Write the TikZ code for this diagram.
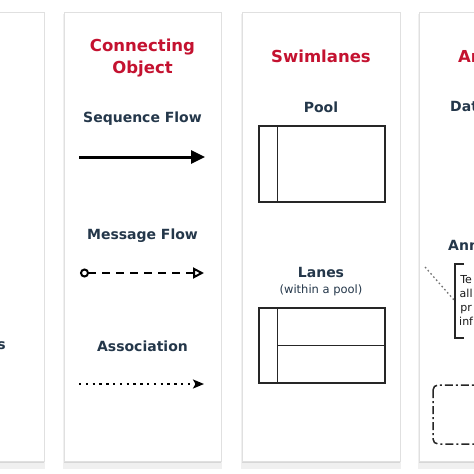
\documentclass[tikz,border=0pt]{standalone}
\usepackage{fontspec}
\setmainfont{DejaVu Sans}
\usepackage{tikz}
\usetikzlibrary{positioning,arrows.meta,shadows}
\definecolor{bpmnred}{HTML}{C41230}
\definecolor{bpmnnavy}{HTML}{24374A}
\definecolor{bpmnline}{HTML}{262626}

\begin{document}
\begin{tikzpicture}[
		x=1pt, y=-1pt,
		every text node part/.style={align=center},
		panel/.style={draw=black!12, fill=white, inner sep=0pt,
			drop shadow={shadow xshift=0pt, shadow yshift=-2pt, opacity=0.10, fill=black},
			drop shadow={shadow xshift=0pt, shadow yshift=-5pt, shadow scale=1.015, opacity=0.06, fill=black}},
		title/.style={text=bpmnred, font=\bfseries\fontsize{16.5}{22}\selectfont, inner sep=0pt},
		label/.style={text=bpmnnavy, font=\bfseries\fontsize{14}{17}\selectfont, inner sep=0pt},
		small/.style={text=bpmnnavy, font=\fontsize{11.5}{14}\selectfont, inner sep=0pt},
		note/.style={text=black!90, font=\fontsize{11}{14}\selectfont, inner sep=0pt, anchor=north west, align=left},
		shape line/.style={draw=bpmnline, line width=1.5pt},
		flow/.style={line width=2pt, draw=black}
	]
	\useasboundingbox[fill=white] (0,0) rectangle (474,474);

	% panels
	\node(objects)[panel, minimum width=84, minimum height=449] at (2,236.5) {};
	\node(connecting)[panel, minimum width=157, minimum height=449] at (142.5,236.5) {};
	\node(swimlanes)[panel, minimum width=158, minimum height=449] at (321,236.5) {};
	\node(artifacts)[panel, minimum width=120, minimum height=449] at (479,236.5) {};

	\node(gateway)[label, anchor=east] at (6,346) {s};

	% connecting objects
	\node(conntitle)[title] at (142.5,58) {Connecting\\Object};
	\node(seqlabel)[label] at (142.5,119) {Sequence Flow};
	\node(msglabel)[label] at (142.5,236) {Message Flow};
	\node(asslabel)[label] at (142.5,346) {Association};

	\coordinate(seqstart) at (79,157);
	\coordinate(seqend) at (205,157);
	\coordinate(msgstart) at (80,273);
	\coordinate(msgend) at (204,273);
	\coordinate(assstart) at (79,384);
	\coordinate(assend) at (204,384);

	\draw[flow, line width=3pt, -{Triangle[length=14pt, width=13pt]}] (seqstart) -- (seqend);
	\draw[flow, dash pattern=on 8pt off 6pt,
		{Circle[open, length=9pt, width=9pt, line width=2pt]}-{Triangle[open, length=11pt, width=11pt, line width=2pt]}] (msgstart) -- (msgend);
	\draw[flow, line width=2.4pt, dash pattern=on 2.4pt off 4.4pt, -{Stealth[length=11pt, width=9pt, inset=2.5pt]}] (assstart) -- (assend);

	% swimlanes
	\node(swimtitle)[title] at (321,56) {Swimlanes};
	\node(poollabel)[label] at (321,107) {Pool};
	\node(pool)[shape line, minimum width=126, minimum height=76, inner sep=0pt] at (322,164) {};
	\draw[shape line] ([xshift=19]pool.north west) -- ([xshift=19]pool.south west);

	\node(laneslabel)[label] at (321,272) {Lanes};
	\node(lanesnote)[small] at (321,290) {(within a pool)};
	\node(lanes)[shape line, minimum width=126, minimum height=75, inner sep=0pt] at (322,345.5) {};
	\draw[shape line] ([xshift=19]lanes.north west) -- ([xshift=19]lanes.south west);
	\draw[shape line] ([xshift=19]lanes.west) -- (lanes.east);

	% artifacts
	\node(arttitle)[title, anchor=west] at (458,56) {Ar};
	\node(datalabel)[label, anchor=west] at (450,106) {Dat};
	\node(annlabel)[label, anchor=west] at (448,245) {Ann};

	\coordinate(bracktop) at (464,264);
	\coordinate(brackbot) at (464,338);
	\draw[shape line] (bracktop) -- (455,264) -- (455,338) -- (brackbot);
	\node(anntext)[note] at (459,275) {Te\\all\\pr\\inf};
	\coordinate(assocend) at (454,300);
	\coordinate(assocstart) at (425,267);
	\draw[draw=black!55, line width=1.3pt, dash pattern=on 1.6pt off 2.6pt] (assocstart) -- (assocend);

	\coordinate(groupnw) at (433,385);
	\coordinate(groupse) at (510,444);
	\draw[shape line, rounded corners=5pt, dash pattern=on 8pt off 3pt on 2pt off 3pt] (groupnw) rectangle (groupse);
\end{tikzpicture}
\end{document}
